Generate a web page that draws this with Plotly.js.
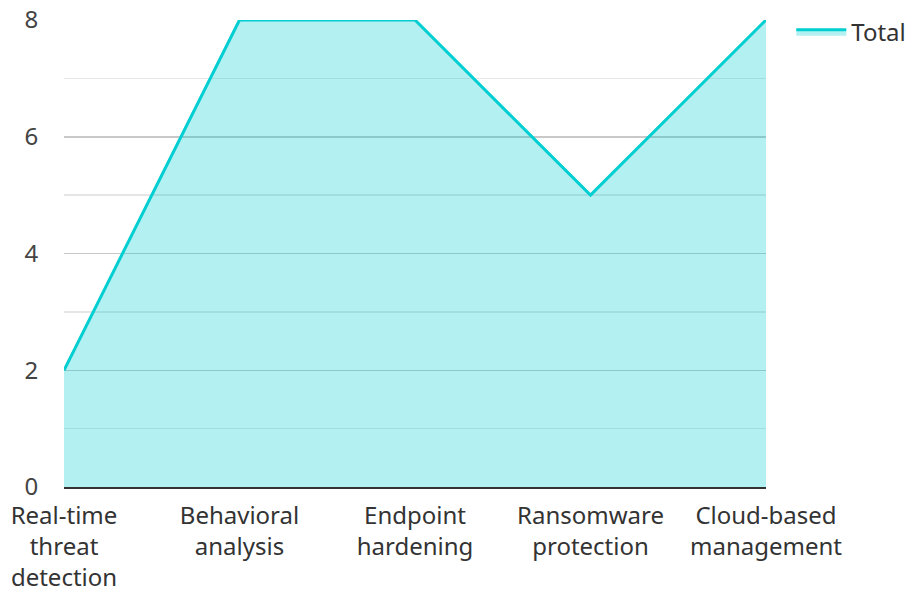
<!DOCTYPE html>
<html>
<head>
<meta charset="utf-8">
<script src="https://cdn.plot.ly/plotly-3.0.1.min.js"></script>
<style>html,body{margin:0;padding:0;background:#fff;}#chart{width:907px;height:590px;}</style>
</head>
<body>
<div id="chart"></div>
<script>
const categories = ["Real-time<br>threat<br>detection", "Behavioral<br>analysis", "Endpoint<br>hardening", "Ransomware<br>protection", "Cloud-based<br>management"];
const totals = [2, 8, 8, 5, 8];
const seriesName = "Total";

const trace = {
  x: categories,
  y: totals,
  name: seriesName,
  type: "scatter",
  mode: "lines",
  fill: "tozeroy",
  line: {color: "#00CED1", width: 3},
  fillcolor: "rgba(0,206,209,0.3)"
};

const layout = {
  width: 907, height: 590,
  margin: {l: 64, r: 141, t: 20, b: 103, autoexpand: false},
  paper_bgcolor: "#fff", plot_bgcolor: "#fff",
  font: {family: "Noto Sans, Open Sans, sans-serif", size: 24, color: "#444"},
  showlegend: true,
  legend: {x: 1.036, y: 1.022, xanchor: "left", yanchor: "top", itemwidth: 50, font: {size: 24, color: "#333"}, bgcolor: "rgba(0,0,0,0)"},
  xaxis: {
    type: "category", range: [0, 4], showgrid: false, zeroline: false,
    showline: true, linecolor: "#333", linewidth: 2,
    ticks: "outside", ticklen: 6, tickcolor: "rgba(0,0,0,0)",
    tickfont: {size: 24, color: "#333"}
  },
  yaxis: {
    range: [0, 8], dtick: 2, showgrid: true, gridcolor: "#c8c8c8", gridwidth: 1.5,
    zeroline: false, showline: false,
    ticks: "outside", ticklen: 20, tickcolor: "rgba(0,0,0,0)",
    tickfont: {size: 24, color: "#444"},
    minor: {dtick: 1, showgrid: true, gridcolor: "#e6e6e6", gridwidth: 1.5}
  }
};

Plotly.newPlot("chart", [trace], layout, {displayModeBar: false, staticPlot: true});
</script>
</body>
</html>
